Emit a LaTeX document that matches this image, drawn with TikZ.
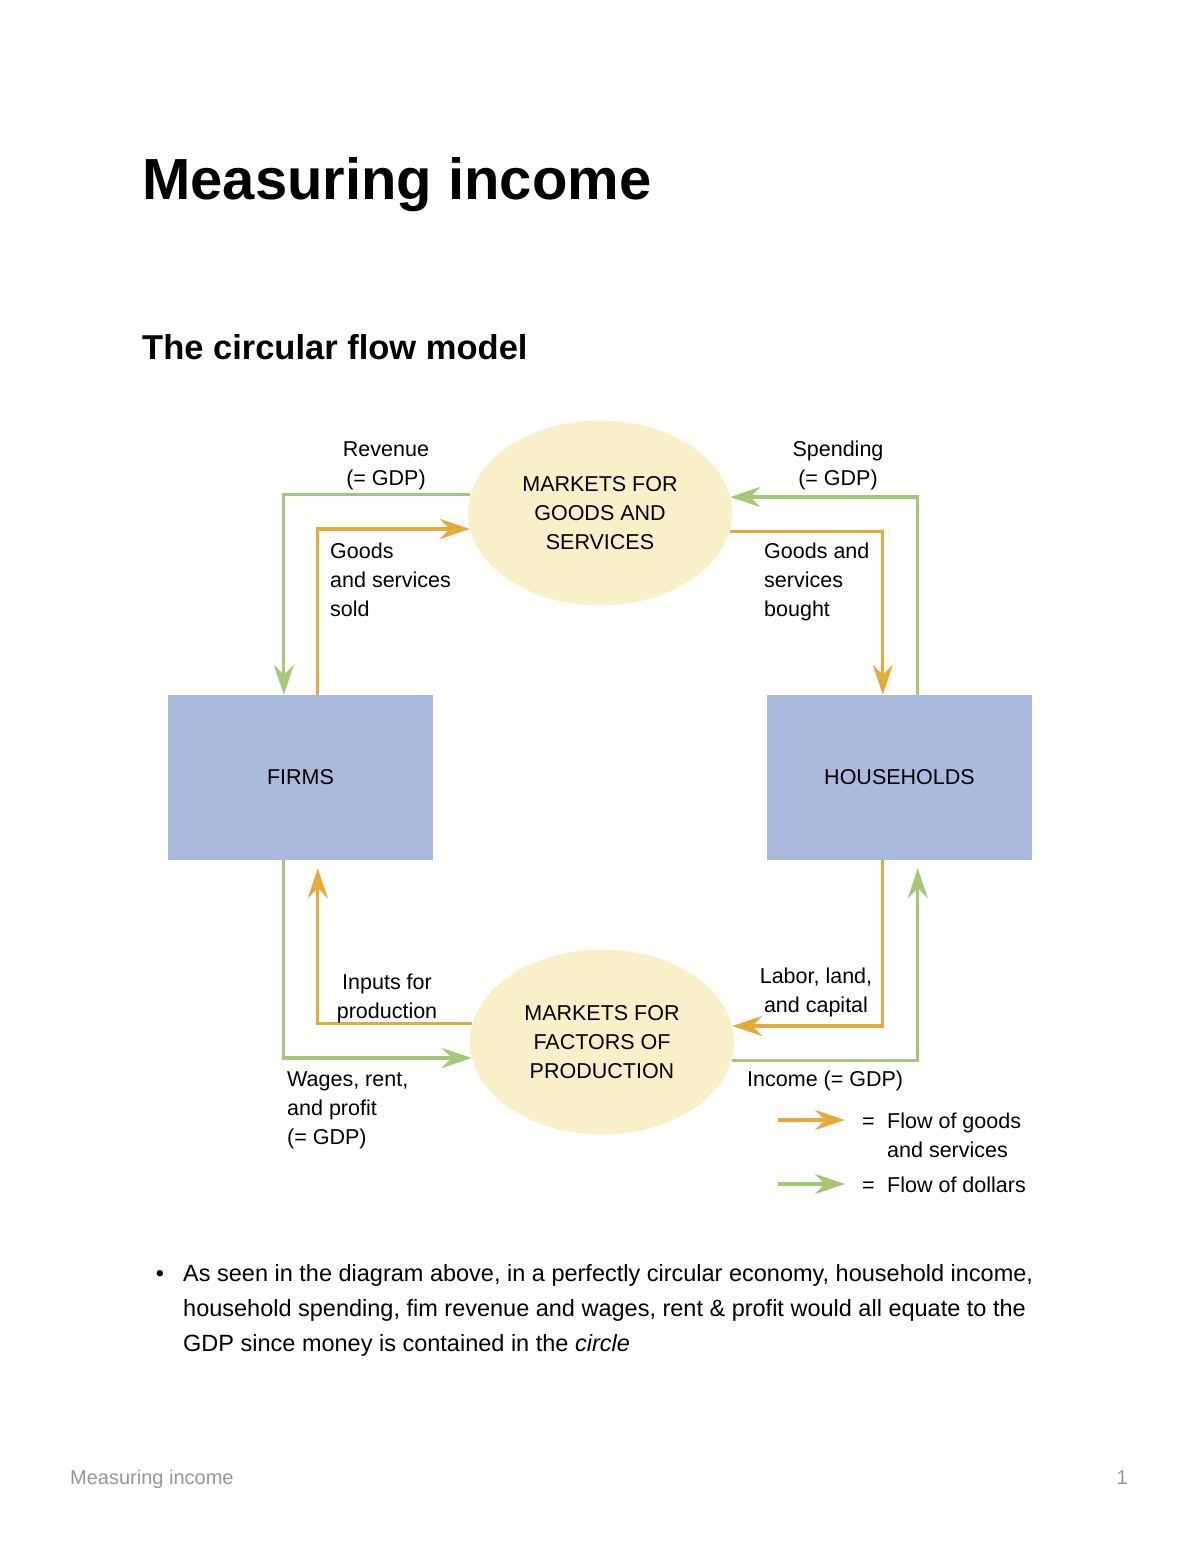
\documentclass[tikz,border=0pt]{standalone}
\usepackage{fontspec}
\setmainfont{Liberation Sans}
\usetikzlibrary{arrows.meta,calc,shapes.geometric}
\definecolor{dollarc}{RGB}{165,200,120}
\definecolor{goodsc}{RGB}{230,170,58}
\definecolor{boxc}{RGB}{169,186,220}
\definecolor{ellc}{RGB}{249,239,201}
\definecolor{footc}{RGB}{150,150,150}
\newcommand{\diafont}{\fontsize{21.5}{29}\selectfont}
\tikzset{
  flowline/.style={line width=3.3pt, -{Stealth[length=30pt,width=20pt,inset=10pt]}},
  dollar/.style={flowline, draw=dollarc},
  goods/.style={flowline, draw=goodsc},
  agent/.style={rectangle, fill=boxc, minimum width=265pt, minimum height=165pt, inner sep=0pt, font=\diafont},
  market/.style={ellipse, fill=ellc, minimum width=264pt, minimum height=185pt, inner sep=0pt, align=center, font=\diafont},
  lbl/.style={inner sep=0pt, font=\diafont},
}
\begin{document}
\begin{tikzpicture}[x=1pt,y=-1pt]
\useasboundingbox (0,0) rectangle (1200,1553);
% titles
\node[inner sep=0pt, anchor=base west, font=\fontsize{58}{60}\selectfont\bfseries] (title) at (142,199) {Measuring income};
\node[inner sep=0pt, anchor=base west, font=\fontsize{34.5}{40}\selectfont\bfseries] (sub) at (142,359) {The circular flow model};
% markets
\node[market] (mg) at (600,513) {MARKETS FOR\\GOODS AND\\SERVICES};
\node[market] (mf) at (602,1042) {MARKETS FOR\\FACTORS OF\\PRODUCTION};
% agents
\node[agent] (firms) at (300.5,777.5) {FIRMS};
\node[agent] (hh) at (899.5,777.5) {HOUSEHOLDS};
% flows
\draw[dollar] (mg.172.54) -| ($(firms.north west)+(116,0)$);
\draw[goods] ($(firms.north west)+(150,0)$) |- (mg.187.9);
\draw[dollar] ($(hh.north west)+(151,0)$) |- (mg.7.46);
\draw[goods] (mg.352.1) -| ($(hh.north west)+(116,0)$);
\draw[goods] ($(hh.south west)+(116,0)$) |- (mf.7.94);
\draw[dollar, shorten >=8pt] (mf.352.97) -| ($(hh.south west)+(151,0)$);
\draw[goods, shorten >=8pt] (mf.172.06) -| ($(firms.south west)+(150,0)$);
\draw[dollar] ($(firms.south west)+(116,0)$) |- (mf.187.03);
% labels (base = baseline of last line)
\node[lbl, anchor=base, align=center] (rev) at (386,485) {Revenue\\(= GDP)};
\node[lbl, anchor=base, align=center] (spe) at (838,485) {Spending\\(= GDP)};
\node[lbl, anchor=base west, align=left] (gss) at (330,616) {Goods\\and services\\sold};
\node[lbl, anchor=base west, align=left] (gsb) at (764,616) {Goods and\\services\\bought};
\node[lbl, anchor=base, align=center] (inp) at (387,1018) {Inputs for\\production};
\node[lbl, anchor=base, align=center] (lab) at (816,1012) {Labor, land,\\and capital};
\node[lbl, anchor=base west] (inc) at (747,1086) {Income (= GDP)};
\node[lbl, anchor=base west, align=left] (wag) at (287,1144) {Wages, rent,\\and profit\\(= GDP)};
% legend
\coordinate (lo1) at (778,1120);
\coordinate (lo2) at (845,1120);
\coordinate (lg1) at (778,1184);
\coordinate (lg2) at (845,1184);
\draw[goods] (lo1) -- (lo2);
\draw[dollar] (lg1) -- (lg2);
\node[lbl, anchor=base west] (eq1) at (862,1128) {=};
\node[lbl, anchor=base west, align=left] (leg1) at (887,1157) {Flow of goods\\and services};
\node[lbl, anchor=base west] (eq2) at (862,1192) {=};
\node[lbl, anchor=base west] (leg2) at (887,1192) {Flow of dollars};
% bullet text
\node[inner sep=0pt, anchor=base, font=\fontsize{23.5}{35}\selectfont] (bul) at (160,1281) {•};
\node[inner sep=0pt, anchor=base west, align=left, font=\fontsize{23.5}{35}\selectfont] (txt) at (183,1351) {As seen in the diagram above, in a perfectly circular economy, household income,\\household spending, fim revenue and wages, rent \& profit would all equate to the\\GDP since money is contained in the \textit{circle}};
% footer
\node[inner sep=0pt, anchor=base west, font=\fontsize{20}{24}\selectfont, text=footc] (foot) at (70,1484) {Measuring income};
\node[inner sep=0pt, anchor=base east, font=\fontsize{20}{24}\selectfont, text=footc] (pg) at (1128,1484) {1};
\end{tikzpicture}
\end{document}
